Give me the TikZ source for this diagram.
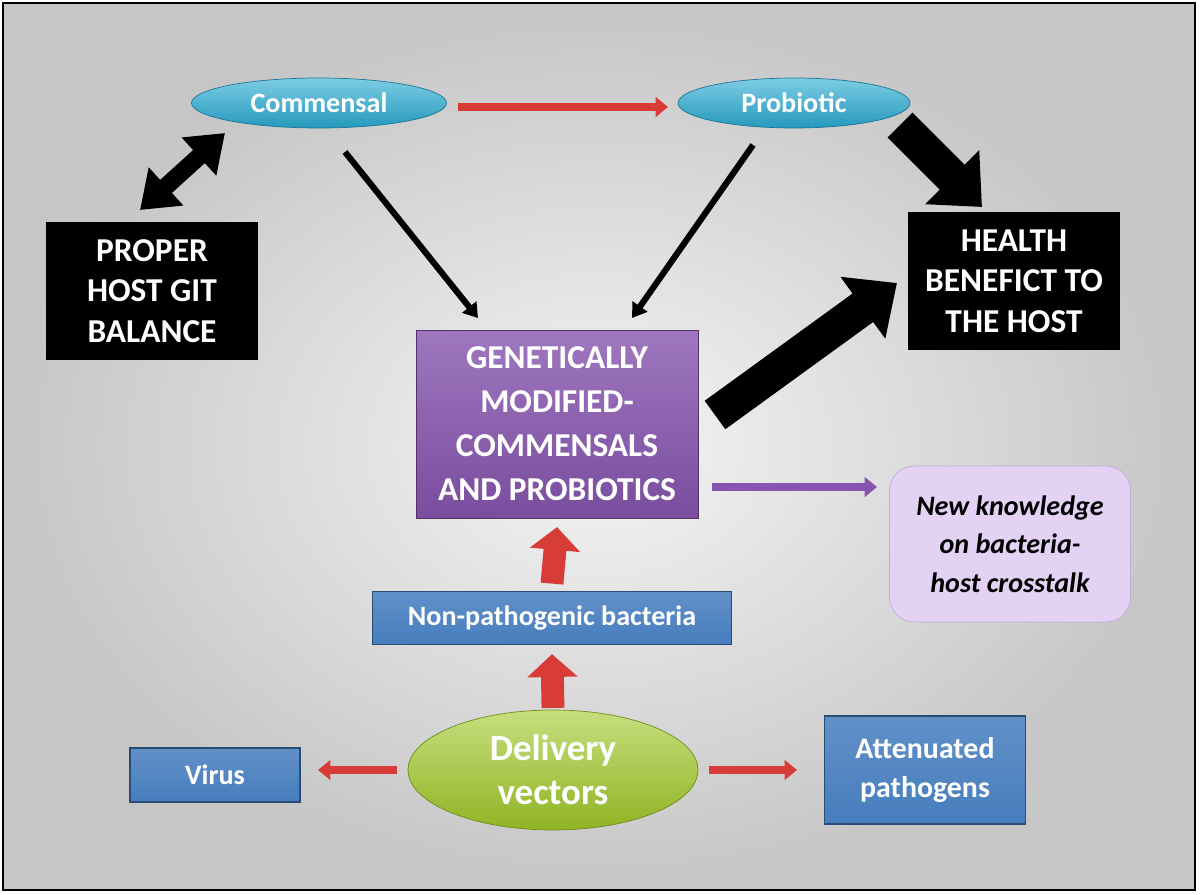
\documentclass[tikz,border=0pt]{standalone}
\usepackage{fontspec}
\setmainfont{Carlito}
\usetikzlibrary{shapes.geometric,arrows.meta,shadows}
\definecolor{cyanA}{RGB}{40,170,210}
\definecolor{purpA}{RGB}{135,85,175}
\definecolor{lavA}{RGB}{228,210,245}
\definecolor{blueA}{RGB}{70,125,190}
\definecolor{greenA}{RGB}{160,200,40}
\definecolor{redA}{RGB}{215,60,55}
\tikzset{
  txt/.style={font=\bfseries\fontsize{16pt}{20pt}\selectfont, text=white, align=center},
  oval/.style={ellipse, txt, top color=cyanA!60, bottom color=cyanA!90!black, draw=cyanA!70!black},
  blk/.style={rectangle, txt, fill=black, font=\bfseries\fontsize{19pt}{23pt}\selectfont},
  bluebox/.style={rectangle, txt, top color=blueA!85, bottom color=blueA, draw=blueA!60!black, line width=1pt},
  redarr/.style={-{Triangle[length=7pt,width=11pt]}, line width=4.5pt, draw=redA},
  bigred/.style={-{Triangle[length=13pt,width=28pt]}, line width=13pt, draw=redA},
  thinblk/.style={-{Triangle[length=8pt,width=10pt]}, line width=3.5pt, draw=black},
  fatblk/.style={-{Triangle[length=24pt,width=42pt]}, line width=20pt, draw=black}
}
\begin{document}
\begin{tikzpicture}[x=0.02cm,y=-0.02cm]
\useasboundingbox (0,0) rectangle (1200,895);
\fill[white] (0,0) rectangle (1200,895);
\draw[line width=1pt, inner color=gray!8, outer color=gray!45] (3,3) rectangle (1195,890);
% nodes
\node[oval, minimum width=5.1cm, minimum height=1cm] (com) at (319,103) {Commensal};
\node[oval, minimum width=4.64cm, minimum height=1cm] (pro) at (794,103) {Probiotic};
\node[blk, minimum width=4.26cm, minimum height=2.76cm] (phg) at (152,291) {PROPER\\HOST GIT\\BALANCE};
\node[blk, minimum width=4.26cm, minimum height=2.76cm] (hb) at (1014,281) {HEALTH\\BENEFICT TO\\THE HOST};
\node[rectangle, txt, font=\bfseries\fontsize{19pt}{25pt}\selectfont, top color=purpA!80, bottom color=purpA!90!black, draw=purpA!60!black, minimum width=5.64cm, minimum height=3.76cm] (gm) at (557,424) {GENETICALLY\\MODIFIED-\\COMMENSALS\\AND PROBIOTICS};
\node[rectangle, rounded corners=14pt, font=\bfseries\itshape\fontsize{16pt}{22pt}\selectfont, align=center, fill=lavA, draw=purpA!50, minimum width=4.82cm, minimum height=3.12cm] (nk) at (1010,544) {New knowledge\\on bacteria-\\host crosstalk};
\node[bluebox, minimum width=7.18cm, minimum height=1.06cm] (np) at (552,618) {Non-pathogenic bacteria};
\node[ellipse, txt, font=\bfseries\fontsize{21pt}{25pt}\selectfont, top color=greenA!60, bottom color=greenA!90!black, draw=greenA!70!black, minimum width=5.8cm, minimum height=2.4cm] (dv) at (553,770) {Delivery\\vectors};
\node[bluebox, minimum width=3.4cm, minimum height=1.08cm] (vi) at (215,775) {Virus};
\node[bluebox, font=\bfseries\fontsize{17pt}{22pt}\selectfont, minimum width=4.02cm, minimum height=2.16cm] (ap) at (925,770) {Attenuated\\pathogens};
% connector ends
\coordinate (a1) at (140,210);
\coordinate (a2) at (225,133);
\coordinate (c1) at (345,152);
\coordinate (c2) at (478,318);
\coordinate (d1) at (753,145);
\coordinate (d2) at (632,318);
\coordinate (e1) at (900,125);
\coordinate (e2) at (982,207);
\coordinate (f1) at (715,415);
\coordinate (f2) at (897,283);
\coordinate (p1) at (712,487);
\coordinate (p2) at (877,487);
\coordinate (r1) at (458,107);
\coordinate (r2) at (668,107);
% connectors
\draw[redarr] (r1) -- (r2);
\draw[{Triangle[length=20pt,width=28pt]}-{Triangle[length=20pt,width=28pt]}, line width=10pt] (a1) -- (a2);
\draw[thinblk] (c1) -- (c2);
\draw[thinblk] (d1) -- (d2);
\draw[fatblk] (e1) -- (e2);
\draw[fatblk] (f1) -- (f2);
\draw[-{Triangle[length=7pt,width=11pt]}, line width=4.5pt, draw=purpA] (p1) -- (p2);
\draw[bigred] ([yshift=4pt]np.north) -- ([yshift=-5pt]gm.south);
\draw[bigred] ([yshift=1pt]dv.north) -- ([yshift=-5pt]np.south);
\draw[redarr] ([xshift=-6pt]dv.west) -- (318,770);
\draw[redarr] ([xshift=6pt]dv.east) -- (797,770);
\end{tikzpicture}
\end{document}
